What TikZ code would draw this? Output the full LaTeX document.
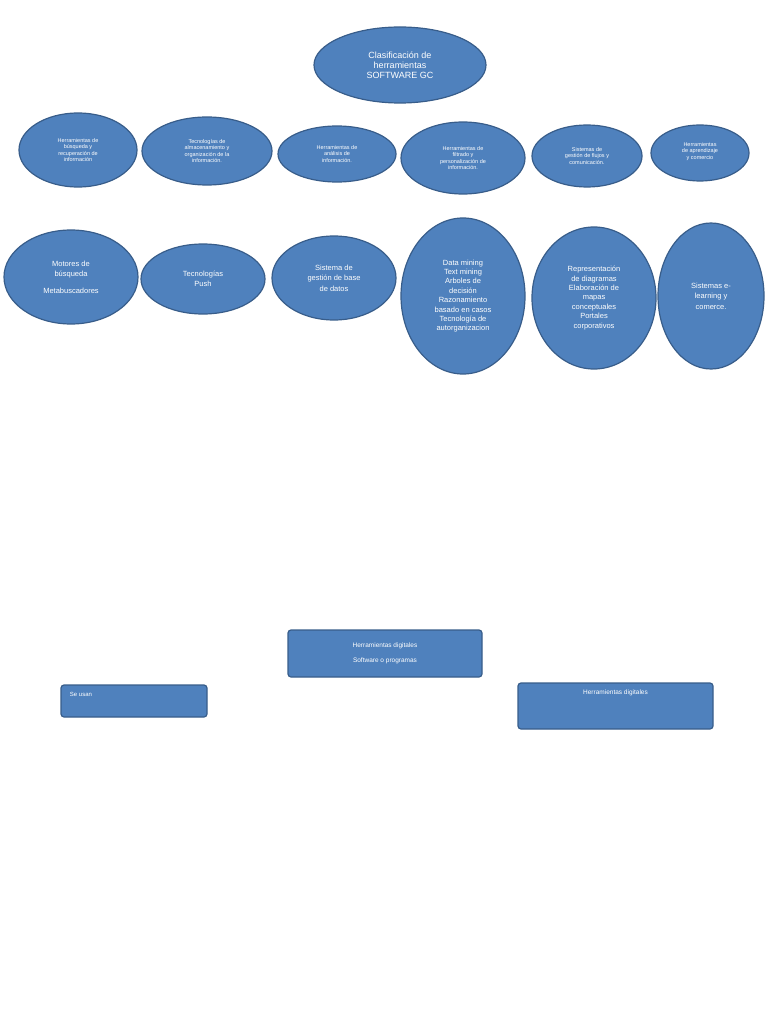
\documentclass[tikz,border=0pt]{standalone}
\usepackage{fontspec}
\setmainfont{Liberation Sans}
\usetikzlibrary{shapes.geometric}
\definecolor{bfill}{HTML}{4F81BD}
\definecolor{bdraw}{HTML}{385D8A}
\begin{document}
\begin{tikzpicture}[x=1pt,y=-1pt,
 ov/.style={ellipse,fill=bfill,draw=bdraw,line width=1.2pt,text=white,align=center,inner sep=0pt},
 rb/.style={rectangle,rounded corners=3pt,fill=bfill,draw=bdraw,line width=1.2pt,text=white},
 sm/.style={font=\fontsize{5.5}{6.5}\selectfont},
 md/.style={font=\fontsize{7.5}{10.5}\selectfont}]
\useasboundingbox (0,0) rectangle (768,1024);
\node[ov,minimum width=172,minimum height=76,font=\fontsize{9}{10}\selectfont] (top) at (400,65) {Clasificación de\\herramientas\\SOFTWARE GC};
\node[ov,sm,minimum width=118,minimum height=74] (a1) at (78,150) {Herramientas de\\búsqueda y\\recuperación de\\información};
\node[ov,sm,minimum width=130,minimum height=68] (a2) at (207,151) {Tecnologías de\\almacenamiento y\\organización de la\\información.};
\node[ov,sm,minimum width=118,minimum height=56] (a3) at (337,154) {Herramientas de\\análisis de\\información.};
\node[ov,sm,minimum width=124,minimum height=72] (a4) at (463,158) {Herramientas de\\filtrado y\\personalización de\\información.};
\node[ov,sm,minimum width=110,minimum height=62] (a5) at (587,156) {Sistemas de\\gestión de flujos y\\comunicación.};
\node[ov,sm,minimum width=98,minimum height=56] (a6) at (700,153) {Herramientas\\de aprendizaje\\y comercio\\[-2pt]};
\node[ov,md,minimum width=134,minimum height=94] (b1) at (71,277) {Motores de\\búsqueda\\[6pt]Metabuscadores};
\node[ov,md,minimum width=124,minimum height=70] (b2) at (203,279) {Tecnologías\\Push};
\node[ov,md,minimum width=124,minimum height=84] (b3) at (334,278) {Sistema de\\gestión de base\\de datos};
\node[ov,md,minimum width=124,minimum height=156,font=\fontsize{7.5}{9.4}\selectfont] (b4) at (463,296) {Data mining\\Text mining\\Arboles de\\decisión\\Razonamiento\\basado en casos\\Tecnología de\\autorganizacion};
\node[ov,md,minimum width=124,minimum height=142,font=\fontsize{7.5}{9.4}\selectfont] (b5) at (594,298) {Representación\\de diagramas\\Elaboración de\\mapas\\conceptuales\\Portales\\corporativos};
\node[ov,md,minimum width=106,minimum height=146] (b6) at (711,296) {Sistemas e-\\learning y\\comerce.};
\node[rb,minimum width=194,minimum height=47,align=center,font=\fontsize{6.5}{11}\selectfont] (r1) at (385,653.5) {Herramientas digitales\\[4pt]Software o programas};
\node[rb,minimum width=146,minimum height=32,font=\fontsize{6}{7}\selectfont] (r2) at (134,701) {};
\node[font=\fontsize{6}{7}\selectfont,text=white,anchor=north west] (r2t) at (r2.north west) [xshift=6pt,yshift=-4pt] {Se usan};
\node[rb,minimum width=195,minimum height=46] (r3) at (615.5,706) {};
\node[font=\fontsize{6.5}{8}\selectfont,text=white,anchor=north] (r3t) at (r3.north) [yshift=-4pt] {Herramientas digitales};
\end{tikzpicture}
\end{document}
